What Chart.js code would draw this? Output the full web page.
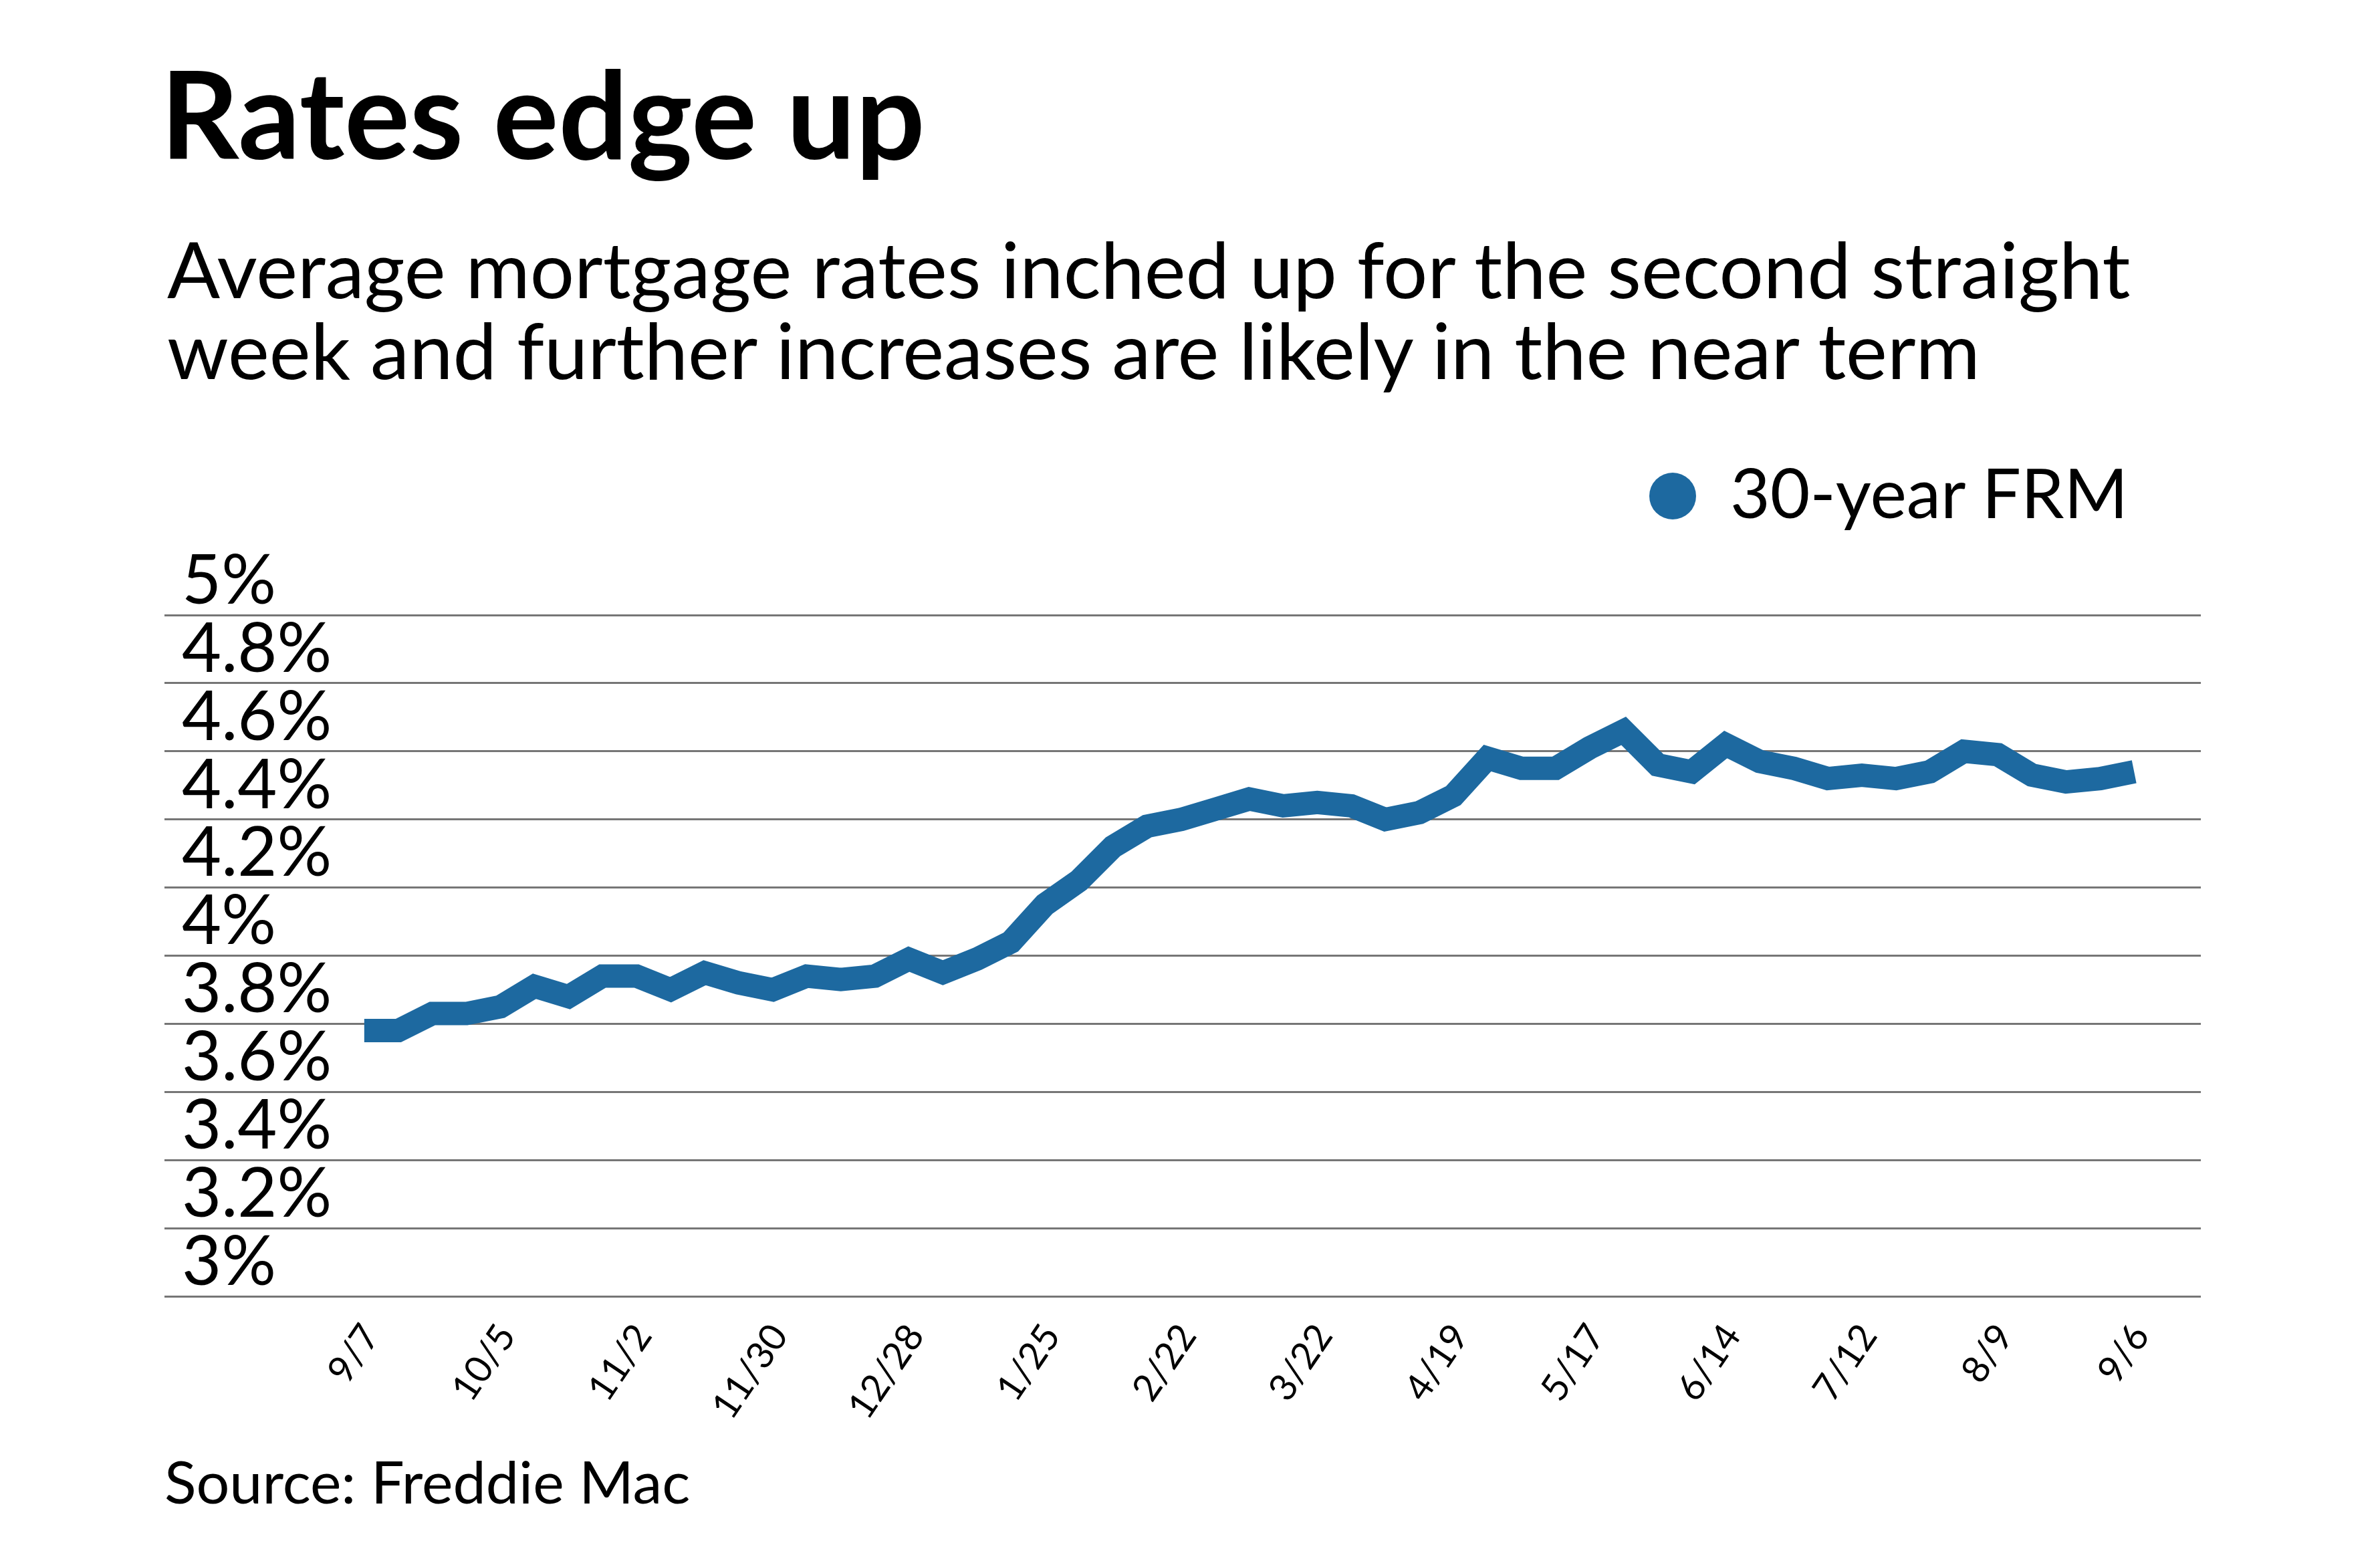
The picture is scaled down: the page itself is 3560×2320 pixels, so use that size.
<!DOCTYPE html>
<html>
<head>
<meta charset="utf-8">
<script src="https://cdn.jsdelivr.net/npm/chart.js@4"></script>
<style>
  body { margin: 0; background: #fff; }
  #wrap { position: relative; width: 3560px; height: 2320px; font-family: Lato, sans-serif; color: #000; }
  #chart { position: absolute; left: 0; top: 0; }
  .txt { position: absolute; white-space: nowrap; }
  .title { left: 240px; top: 76px; font-size: 183px; font-weight: 700; line-height: 1; }
  .subtitle { left: 250px; top: 341px; font-size: 117px; line-height: 121px; }
  .legend-dot { position: absolute; left: 2467px; top: 707px; width: 70px; height: 70px; border-radius: 50%; background: #1d69a0; }
  .legend-text { left: 2588px; top: 684px; font-size: 103px; line-height: 1; }
  .source { left: 246px; top: 2171px; font-size: 88px; line-height: 1; }
</style>
</head>
<body>
<div id="wrap">
  <canvas id="chart" width="3560" height="2320"></canvas>
  <div class="txt title">Rates edge up</div>
  <div class="txt subtitle">Average mortgage rates inched up for the second straight<br>week and further increases are likely in the near term</div>
  <div class="legend-dot"></div>
  <div class="txt legend-text">30-year FRM</div>
  <div class="txt source">Source: Freddie Mac</div>
</div>
<script>
//DATA
const weeks = ['9/7','9/14','9/21','9/28','10/5','10/12','10/19','10/26','11/2','11/9','11/16','11/23','11/30',
  '12/7','12/14','12/21','12/28','1/4','1/11','1/18','1/25','2/1','2/8','2/15','2/22','3/1','3/8','3/15','3/22',
  '3/29','4/5','4/12','4/19','4/26','5/3','5/10','5/17','5/24','5/31','6/7','6/14','6/21','6/28','7/5','7/12',
  '7/19','7/26','8/2','8/9','8/16','8/23','8/30','9/6'];
const rates = [3.78, 3.78, 3.83, 3.83, 3.85, 3.91, 3.88, 3.94, 3.94, 3.90, 3.95, 3.92, 3.90,
  3.94, 3.93, 3.94, 3.99, 3.95, 3.99, 4.04, 4.15, 4.22, 4.32, 4.38, 4.40, 4.43, 4.46, 4.44, 4.45,
  4.44, 4.40, 4.42, 4.47, 4.58, 4.55, 4.55, 4.61, 4.66, 4.56, 4.54, 4.62, 4.57, 4.55, 4.52, 4.53,
  4.52, 4.54, 4.60, 4.59, 4.53, 4.51, 4.52, 4.54];
const labelEvery = 4;
const xTickLabels = weeks.filter((w, i) => i % labelEvery === 0);
const yTicks = [3, 3.2, 3.4, 3.6, 3.8, 4, 4.2, 4.4, 4.6, 4.8, 5];

const lineColor = '#1d69a0';
const ctx = document.getElementById('chart').getContext('2d');

//CHART
new Chart(ctx, {
  type: 'line',
  data: {
    datasets: [{
      label: '30-year FRM',
      data: rates.map((r, i) => ({ x: i, y: r })),
      borderColor: lineColor,
      backgroundColor: lineColor,
      borderWidth: 35,
      borderCapStyle: 'butt',
      borderJoinStyle: 'miter',
      pointRadius: 0,
      tension: 0,
      fill: false
    }]
  },
  options: {
    responsive: false,
    devicePixelRatio: 1,
    animation: false,
    layout: { padding: { left: 220, right: 268, top: 920, bottom: 181 } },
    plugins: { legend: { display: false }, tooltip: { enabled: false } },
    scales: {
      x: {
        type: 'linear',
        min: -5.87,
        max: 53.96,
        grid: { display: false },
        border: { display: false },
        afterBuildTicks: (scale) => {
          scale.ticks = xTickLabels.map((l, i) => ({ value: i * labelEvery }));
        },
        afterFit: (scale) => { scale.height = 200; },
        ticks: {
          autoSkip: false,
          minRotation: 56,
          maxRotation: 56,
          padding: 22,
          labelOffset: 10,
          color: '#000',
          font: { family: 'Lato', size: 56 },
          callback: (value) => xTickLabels[value / labelEvery]
        }
      },
      y: {
        min: 3,
        max: 5,
        afterBuildTicks: (scale) => {
          scale.ticks = yTicks.map(v => ({ value: v }));
        },
        afterFit: (scale) => { scale.width = 26; },
        grid: { color: '#767676', lineWidth: 3, drawTicks: false },
        border: { display: false },
        ticks: {
          autoSkip: false,
          mirror: true,
          padding: 26,
          labelOffset: -50,
          color: '#000',
          font: { family: 'Lato', size: 102 },
          callback: (value) => (+value.toFixed(1)) + '%'
        }
      }
    }
  }
});
</script>
</body>
</html>
